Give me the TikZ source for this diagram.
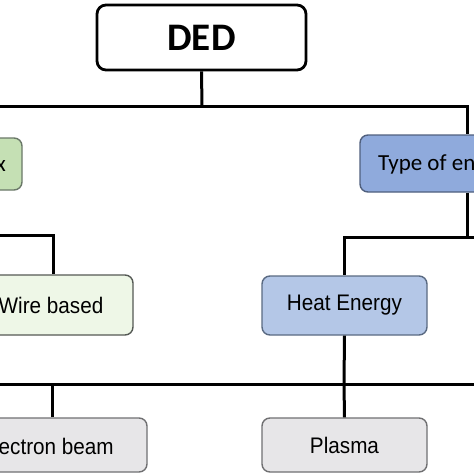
\documentclass[tikz,border=0pt]{standalone}
\usepackage{fontspec}
\setmainfont{Carlito}
\newfontfamily\lowfont[FakeStretch=0.92]{Liberation Sans}
\definecolor{feedfill}{HTML}{C5E0B4}
\definecolor{feeddraw}{HTML}{6A7868}
\definecolor{typefill}{HTML}{8FAADC}
\definecolor{typedraw}{HTML}{50607E}
\definecolor{wirefill}{HTML}{EEF7E7}
\definecolor{wiredraw}{HTML}{555A55}
\definecolor{heatfill}{HTML}{B4C7E7}
\definecolor{heatdraw}{HTML}{5A6A82}
\definecolor{grayfill}{HTML}{E7E6E8}
\definecolor{graydraw}{HTML}{707072}
\begin{document}
\begin{tikzpicture}[x=1pt,y=-1pt,
  topbox/.style={draw=black, line width=2.8pt, rounded corners=9pt, fill=white,
    inner sep=0pt, font=\fontsize{39}{47}\selectfont\bfseries},
  box/.style={line width=1.4pt, rounded corners=8pt, inner sep=0pt},
  upfont/.style={font=\fontsize{23}{27}\selectfont, inner sep=0pt},
  lowtext/.style={font=\lowfont\fontsize{22.5}{27}\selectfont, inner sep=0pt},
  link/.style={draw=black, line width=3pt}]
\useasboundingbox (0,0) rectangle (474,474);
\clip (0,0) rectangle (474,474);
\fill[white] (0,0) rectangle (474,474);
% boxes
\node[topbox, minimum width=209pt, minimum height=65pt] (ded) at (201.5,37.5) {DED};
\node[box, draw=feeddraw, fill=feedfill, minimum width=120pt, minimum height=52pt] (feed) at (-38,164) {};
\node[upfont, anchor=east] (feedl) at (6,166) {x};
\node[box, draw=typedraw, fill=typefill, minimum width=215pt, minimum height=57pt] (type) at (467.5,163.5) {};
\node[upfont, anchor=west] (typel) at (378,165) {Type of energy source};
\node[box, draw=wiredraw, fill=wirefill, minimum width=160pt, minimum height=60pt] (wire) at (53,305) {};
\node[lowtext] (wirel) at (51,305) {Wire based};
\node[box, draw=heatdraw, fill=heatfill, minimum width=165pt, minimum height=59pt, lowtext] (heat) at (344.5,305.5) {Heat Energy};
\node[box, draw=graydraw, fill=grayfill, minimum width=190pt, minimum height=54pt] (ebeam) at (52,445) {};
\node[lowtext] (ebeaml) at (47,446) {Electron beam};
\node[box, draw=graydraw, fill=grayfill, minimum width=165pt, minimum height=54pt, lowtext] (plasma) at (344.5,445) {Plasma};
% junctions
\coordinate (j1) at (202,106);
\coordinate (j2) at (467.5,237);
\coordinate (j2r) at (520,237);
\coordinate (j3) at (-60,235);
\coordinate (j4) at (344,384);
\coordinate (j4l) at (-60,384);
\coordinate (j4r) at (520,384);
% connectors
\draw[link] (ded.south) -- (j1);
\draw[link] (feed.north) |- (j1) -| (type.north);
\draw[link] (type.south) -- (j2);
\draw[link] (j2r) -| (heat.north);
\draw[link] (j3) -| (wire.north);
\draw[link] (heat.south) -- (j4);
\draw[link] (j4l) -- (j4r);
\draw[link] (j4) -- (plasma.north);
\draw[link] (ebeam.north) -- (ebeam.north |- j4);
\end{tikzpicture}
\end{document}
